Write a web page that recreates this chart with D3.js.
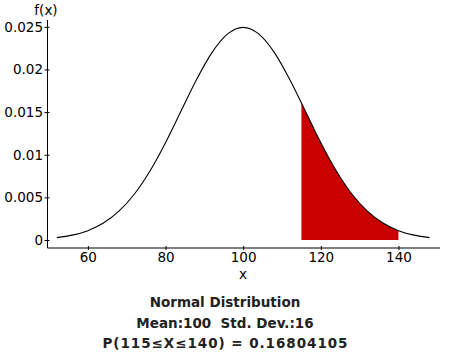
<!DOCTYPE html>
<html><head><meta charset="utf-8">
<script src="https://cdn.jsdelivr.net/npm/d3@7"></script>
<style>body{margin:0;background:#fff}svg{display:block}text{font-family:"DejaVu Sans",Verdana,sans-serif;white-space:pre}</style>
</head><body><svg id="c" width="450" height="355"></svg>
<script>
// curve points (x, f(x))
const curveX = [52,56,60,64,68,72,76,80,84,88,92,96,100,104,108,112,116,120,124,128,132,136,140,144,148];
const curveY = [0.000277,0.000568,0.001096,0.001984,0.003374,0.005392,0.008095,0.011416,0.015123,0.018821,0.022004,0.024167,0.024934,0.024167,0.022004,0.018821,0.015123,0.011416,0.008095,0.005392,0.003374,0.001984,0.001096,0.000568,0.000277];
// shaded region 115..140
const shadeX = [115,116,120,124,128,132,136,140];
const shadeY = [0.016067,0.015123,0.011416,0.008095,0.005392,0.003374,0.001984,0.001096];
const xTicks = [60,80,100,120,140];
const yTicks = [0,0.005,0.01,0.015,0.02,0.025];
const yTickLabels = ["0","0.005","0.01","0.015","0.02","0.025"];
const titleLines = ["Normal Distribution","Mean:100  Std. Dev.:16","P(115\u2264X\u2264140) = 0.16804105"];

const svg = d3.select("#c");
const x = d3.scaleLinear().domain([49.6,150.7]).range([47.5,440]);
const y = d3.scaleLinear().domain([-0.00094,0.0258]).range([248,20]);

const curve = curveX.map((v,i)=>[v,curveY[i]]);
const shade = shadeX.map((v,i)=>[v,shadeY[i]]);

svg.append("path").datum(shade)
  .attr("d", d3.area().x(d=>x(d[0])).y0(y(0)).y1(d=>y(d[1])).curve(d3.curveMonotoneX))
  .attr("fill","#c80000");

svg.append("path").datum(curve)
  .attr("d", d3.line().x(d=>x(d[0])).y(d=>y(d[1])).curve(d3.curveMonotoneX))
  .attr("fill","none").attr("stroke","#000").attr("stroke-width",1.1);

const yAx = svg.append("g").attr("transform","translate(47.5,0)")
  .call(d3.axisLeft(y).tickValues(yTicks).tickFormat((d,i)=>yTickLabels[i]).tickSizeOuter(0).tickSizeInner(3).tickPadding(1.5));
yAx.select(".domain").attr("d","M0,20V248").attr("stroke","#000");
yAx.selectAll(".tick line").attr("x1",2).attr("x2",-3);
yAx.selectAll(".tick text").attr("font-size",13.5).attr("fill","#000").attr("font-family","DejaVu Sans");

const xAx = svg.append("g").attr("transform","translate(0,248)")
  .call(d3.axisBottom(x).tickValues(xTicks).tickSizeOuter(0).tickSizeInner(3).tickPadding(1));
xAx.select(".domain").attr("d","M47.5,0H440").attr("stroke","#000");
xAx.selectAll(".tick line").attr("y1",-2).attr("y2",2);
xAx.selectAll(".tick text").attr("font-size",13.5).attr("fill","#000").attr("font-family","DejaVu Sans");

svg.append("text").attr("x",46).attr("y",15).attr("text-anchor","middle").attr("font-size",13.5).text("f(x)");
svg.append("text").attr("x",243).attr("y",279).attr("text-anchor","middle").attr("font-size",13.5).text("x");

const titleWidths = [null,null,245];
titleLines.forEach((t,i)=>{
  const tx = svg.append("text").attr("x",225).attr("y",307+i*20.5).attr("text-anchor","middle")
    .attr("font-size",13.5).attr("font-weight","bold").attr("fill","#222").text(t);
  if (titleWidths[i]) tx.attr("textLength",titleWidths[i]).attr("lengthAdjust","spacing");
});
</script></body></html>
